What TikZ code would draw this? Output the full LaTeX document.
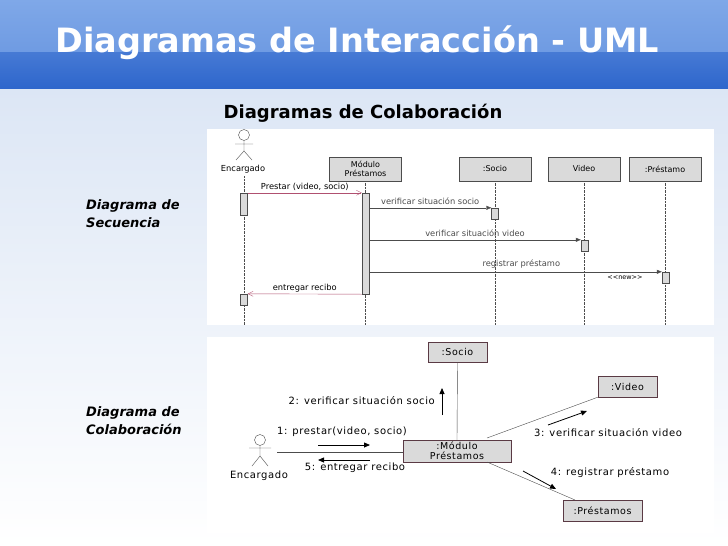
\documentclass[tikz,border=0pt]{standalone}
\usepackage{fontspec}
\setmainfont{DejaVu Sans}
\newfontfamily\wide[LetterSpace=6]{DejaVu Sans}
\usetikzlibrary{arrows.meta}
\definecolor{hdA}{HTML}{7FA8E8}
\definecolor{hdB}{HTML}{2E66CC}
\definecolor{bgA}{HTML}{DCE6F5}
\definecolor{boxg}{HTML}{DADADA}
\definecolor{pinkl}{HTML}{B05070}
\definecolor{maroon}{HTML}{5A3A44}
\tikzset{
 obj/.style={draw=black!70,fill=boxg,minimum width=72pt,minimum height=24pt,inner sep=0pt,font=\fontsize{8}{9}\selectfont,align=center},
 cobj/.style={draw=maroon,fill=boxg,inner sep=0pt,font=\wide\fontsize{9.5}{10.5}\selectfont,align=center},
 act/.style={draw=black!70,fill=boxg},
 life/.style={densely dotted,black!70},
 msg/.style={black!70,-{Triangle[length=5pt,width=4pt]}},
 rmsg/.style={pinkl,-{Straight Barb[length=5pt,width=5pt]}},
 lbl/.style={font=\fontsize{8.3}{9}\selectfont,inner sep=1pt},
 clbl/.style={font=\wide\fontsize{10}{11}\selectfont,inner sep=1pt},
 carr/.style={thick,-{Triangle[length=6pt,width=5pt]}},
 side/.style={font=\bfseries\itshape\fontsize{13}{18.5}\selectfont,align=left,anchor=north west,inner sep=0pt}
}
\begin{document}
\begin{tikzpicture}[x=1pt,y=-1pt]
\useasboundingbox (0,0) rectangle (728,546);
% background
\shade[top color=bgA,bottom color=white] (0,88) rectangle (728,546);
\shade[top color=hdA,bottom color=hdA!80!hdB] (0,0) rectangle (728,52);
\shade[top color=hdB!70!hdA,bottom color=hdB] (0,52) rectangle (728,88);
\node[anchor=west,text=white,font=\bfseries\fontsize{33.5}{36}\selectfont,inner sep=0pt] (title) at (55,43) {Diagramas de Interacción - UML};
\node[font=\bfseries\fontsize{18}{20}\selectfont] (sub) at (363,113) {Diagramas de Colaboración};
\node[side] (s1) at (86,199) {Diagrama de\\Secuencia};
\node[side] (s2) at (86,406) {Diagrama de\\Colaboración};
% panels
\fill[white] (207,129) rectangle (714,325);
\fill[white] (207,337) rectangle (714,533);
% ---- sequence
\draw[black!70] (244,135) circle (5.5);
\draw[black!70] (244,140.5) -- (244,151) (235,144) -- (253,144) (244,151) -- (236,160) (244,151) -- (252,160);
\node[lbl] (enc) at (243,169) {Encargado};
\node[obj] (mod) at (365.5,169) {Módulo\\Préstamos};
\node[obj] (soc) at (495,169) {:Socio};
\node[obj] (vid) at (584,169) {Video};
\node[obj] (pre) at (665,169) {:Préstamo};
\draw[life] (244,176) -- (244,325);
\draw[life] (mod.south) -- (365.5,325);
\draw[life] (soc.south) -- (495,325);
\draw[life] (vid.south) -- (584,325);
\draw[life] (pre.south) -- (665,325);
\node[act,minimum width=7pt,minimum height=22pt,inner sep=0pt] (a1) at (244,204) {};
\node[act,minimum width=7pt,minimum height=11pt,inner sep=0pt] (a2) at (244,299.5) {};
\node[act,minimum width=7pt,minimum height=101pt,inner sep=0pt] (am) at (365.5,243.5) {};
\node[act,minimum width=7pt,minimum height=11pt,inner sep=0pt] (as) at (495,213.5) {};
\node[act,minimum width=7pt,minimum height=11pt,inner sep=0pt] (av) at (584.5,245.5) {};
\node[act,minimum width=7pt,minimum height=11pt,inner sep=0pt] (ap) at (665.5,277.5) {};
\draw[rmsg] (a1.north east) -- (am.north west) node[lbl,midway,above=1pt,black] {Prestar (video, socio)};
\draw[msg] (am.east |- as.north) -- (as.north west) node[lbl,pos=0.5,above=2pt] {verificar situación socio};
\draw[msg] (am.east |- av.north) -- (av.north west) node[lbl,pos=0.5,above=2pt] {verificar situación video};
\draw[msg] (am.east |- ap.north) -- (ap.north west) node[lbl,pos=0.52,above=2pt] {registrar préstamo};
\node[lbl,font=\fontsize{6.5}{7}\selectfont] (new) at (625,278) {{<}{<}new{>}{>}};
\draw[rmsg] (am.south west) -- (a2.north east) node[lbl,midway,above=1pt,black] {entregar recibo};
% ---- collaboration
\node[cobj,minimum width=59pt,minimum height=20pt] (csoc) at (457.5,352) {:Socio};
\node[cobj,minimum width=59pt,minimum height=21pt] (cvid) at (627.5,386.5) {:Video};
\node[cobj,minimum width=108pt,minimum height=22pt] (cmod) at (457,451) {:Módulo\\Préstamos};
\node[cobj,minimum width=79pt,minimum height=21pt] (cpre) at (602.5,510.5) {:Préstamos};
\draw[black!70] (260,440) circle (5.5);
\draw[black!70] (260,445.5) -- (260,456) (249,448) -- (271,448) (260,456) -- (252,466) (260,456) -- (268,466);
\node[clbl] (cenc) at (259,476) {Encargado};
\coordinate (ahand) at (277,452);
\draw[black!70] (ahand) -- (cmod.west |- ahand);
\draw[black!70] (csoc.south) -- (cmod.north);
\draw[black!70] (487,438) -- (cvid.south west);
\draw[black!70] (487,462) -- (575,500);
\coordinate (u1) at (442,415); \coordinate (u2) at (442,388);
\draw[carr] (u1) -- (u2);
\node[clbl,anchor=east] (l2) at (436,401) {2: verificar situación socio};
\coordinate (p1) at (318,445); \coordinate (p2) at (370,445);
\draw[carr] (p1) -- (p2);
\node[clbl] (l1) at (342,432) {1: prestar(video, socio)};
\coordinate (e1) at (370,460); \coordinate (e2) at (318,460);
\draw[carr] (e1) -- (e2);
\node[clbl] (l5) at (355,468) {5: entregar recibo};
\coordinate (v1) at (548,425); \coordinate (v2) at (587,411);
\draw[carr] (v1) -- (v2);
\node[clbl] (l3) at (608,433) {3: verificar situación video};
\coordinate (r1) at (523,471); \coordinate (r2) at (556,489);
\draw[carr] (r1) -- (r2);
\node[clbl] (l4) at (610,473) {4: registrar préstamo};
\end{tikzpicture}
\end{document}
